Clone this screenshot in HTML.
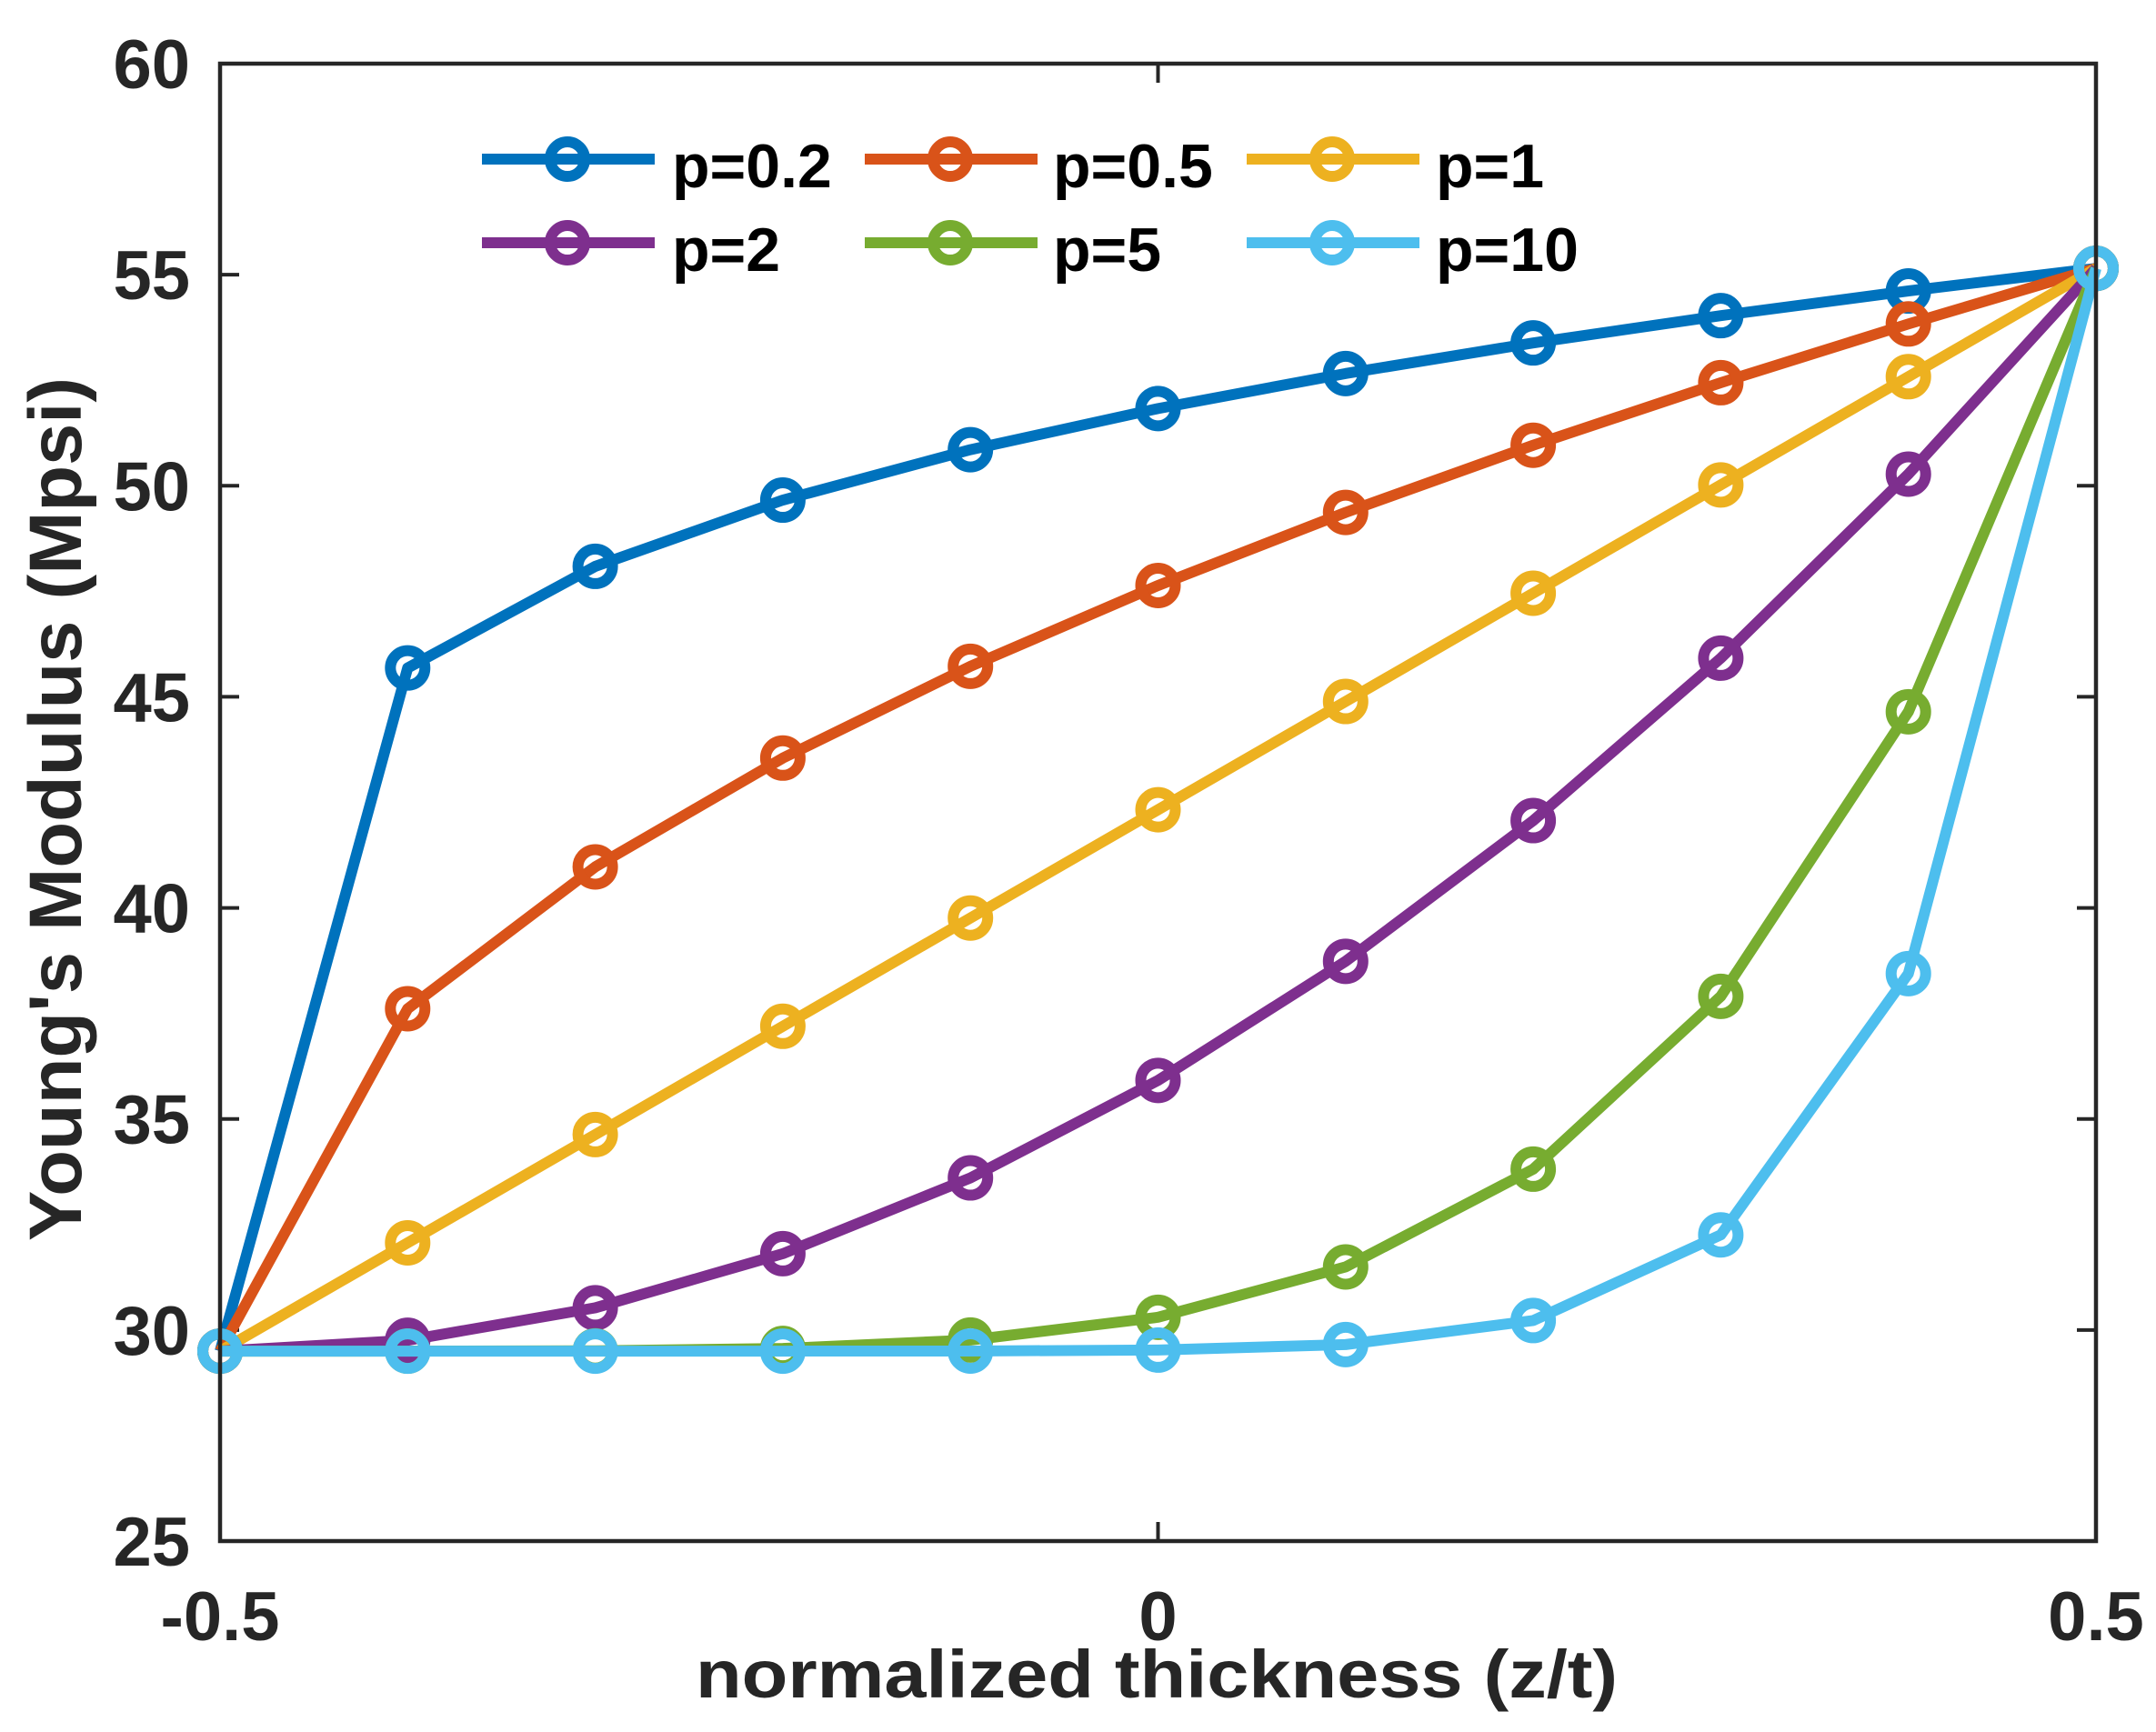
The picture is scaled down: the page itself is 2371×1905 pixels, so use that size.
<!DOCTYPE html>
<html><head><meta charset="utf-8"><style>html,body{margin:0;padding:0;background:#fff}svg{display:block}</style></head>
<body>
<svg id="s" width="2371" height="1905" xmlns="http://www.w3.org/2000/svg" font-family="'Liberation Sans', sans-serif" font-weight="bold" fill="#262626">
<rect width="2371" height="1905" fill="#fff"/>
<g id="ticks" stroke="#262626" stroke-width="4"></g>
<g id="series" fill="none" stroke-width="12" stroke-linejoin="round"></g>
<rect x="242" y="70" width="2063" height="1625" fill="none" stroke="#262626" stroke-width="4.5"/>
<g id="labels" font-size="76"></g>
<text x="1272" y="1867" font-size="74" text-anchor="middle" textLength="1014" lengthAdjust="spacingAndGlyphs">normalized thickness (z/t)</text>
<text transform="translate(89,890) rotate(-90)" font-size="82" text-anchor="middle" textLength="950" lengthAdjust="spacingAndGlyphs">Young's Modulus (Mpsi)</text>
<g id="legend" font-size="68" fill="#000"></g>
</svg>
<script>
var NS="http://www.w3.org/2000/svg";
function el(t,a,p,txt){var e=document.createElementNS(NS,t);for(var k in a)e.setAttribute(k,a[k]);if(txt!==undefined)e.textContent=txt;p.appendChild(e);return e;}
var L=242,R=2305,T=70,B=1695;
function px(x){return L+(x+0.5)*(R-L);}
function py(v){return T+(60-v)*(B-T)/35;}
var tk=document.getElementById('ticks'),lb=document.getElementById('labels');
for(var v=25;v<=60;v+=5){var y=py(v);
 el('line',{x1:L,y1:y,x2:L+21,y2:y},tk);el('line',{x1:R,y1:y,x2:R-21,y2:y},tk);
 el('text',{x:209,y:y+27,'text-anchor':'end'},lb,String(v));}
[-0.5,0,0.5].forEach(function(x){var X=px(x);
 el('line',{x1:X,y1:B,x2:X,y2:B-21},tk);el('line',{x1:X,y1:T,x2:X,y2:T+21},tk);
 el('text',{x:X,y:1804,'text-anchor':'middle'},lb,x==0?'0':String(x));});
var ps=[0.2,0.5,1,2,5,10],cols=['#0072BD','#D95319','#EDB120','#7E2F8E','#77AC30','#4DBEEE'];
var Eb=29.5,Et=55.15,sg=document.getElementById('series');
ps.forEach(function(p,i){var pts=[];
 for(var k=0;k<=10;k++){var z=k/10;pts.push([px(z-0.5),py(Eb+(Et-Eb)*Math.pow(z,p))]);}
 var g=el('g',{stroke:cols[i]},sg);
 el('polyline',{points:pts.map(function(q){return q.join(',')}).join(' ')},g);
 pts.forEach(function(q){el('circle',{cx:q[0],cy:q[1],r:19},g);});
});
var lg=document.getElementById('legend');
var lx=[530,951,1371],ly=[175,267],tx=[739,1158,1579],nm=['p=0.2','p=0.5','p=1','p=2','p=5','p=10'];
for(var i=0;i<6;i++){var c=i%3,r=Math.floor(i/3);
 el('line',{x1:lx[c],y1:ly[r],x2:lx[c]+190,y2:ly[r],stroke:cols[i],'stroke-width':12},lg);
 el('circle',{cx:lx[c]+94,cy:ly[r],r:19,fill:'none',stroke:cols[i],'stroke-width':12},lg);
 el('text',{x:tx[c],y:ly[r]+31},lg,nm[i]);}
</script>
</body></html>
